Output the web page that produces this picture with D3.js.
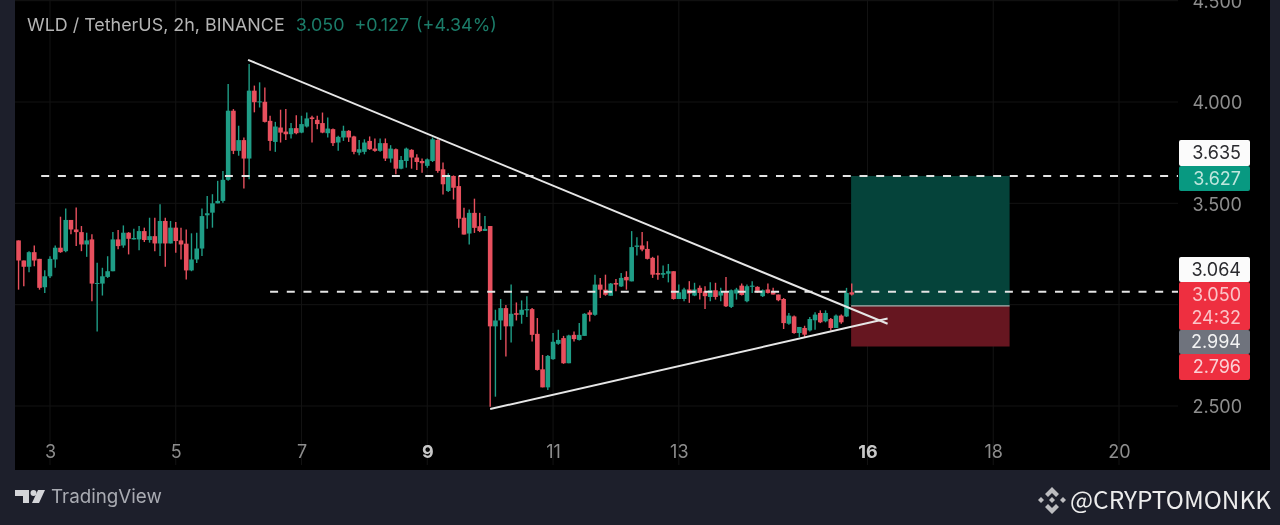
<!DOCTYPE html>
<html><head><meta charset="utf-8">
<script src="https://cdn.jsdelivr.net/npm/d3@7"></script>
<style>html,body{margin:0;padding:0;background:#1d1f2b;overflow:hidden}svg{display:block;filter:blur(0.35px)}text{font-family:Inter,"Noto Sans",sans-serif}</style>
</head><body><div id="chart"></div>
<script>
const startDay = 2.5, barsPerDay = 12;
const opens = [3.317,3.218,3.187,3.259,3.226,3.086,3.140,3.223,3.281,3.264,3.418,3.371,3.358,3.297,3.322,3.104,3.104,3.137,3.165,3.322,3.292,3.355,3.322,3.322,3.363,3.319,3.338,3.302,3.413,3.302,3.380,3.317,3.301,3.169,3.223,3.277,3.441,3.454,3.500,3.512,3.616,3.957,3.759,3.812,3.721,4.056,
3.998,4.001,3.907,3.803,3.874,3.854,3.841,3.871,3.849,3.879,3.924,3.912,3.896,3.846,3.866,3.800,3.825,3.858,3.830,3.750,3.754,3.808,3.770,3.759,3.797,3.721,3.767,3.671,3.709,3.764,3.726,3.709,3.685,3.709,3.813,3.668,3.561,3.635,3.585,3.429,3.351,3.453,3.387,3.364,
3.388,2.893,2.922,2.983,2.893,2.958,2.950,2.972,2.978,2.856,2.681,2.592,2.731,2.807,2.835,2.711,2.851,2.826,2.846,2.962,2.950,3.099,3.074,3.044,3.107,3.090,3.137,3.115,3.285,3.292,3.275,3.231,3.156,3.148,3.153,3.165,
3.028,3.028,3.075,3.045,3.083,3.066,3.038,3.071,3.045,3.066,2.989,3.055,3.094,3.017,3.088,3.088,3.042,3.075,3.066,3.050,3.028,2.906,2.942,2.860,2.885,2.873,2.923,2.959,2.918,2.929,2.885,2.946,2.942,3.061];
const highs = [3.317,3.218,3.264,3.292,3.226,3.170,3.239,3.292,3.434,3.474,3.418,3.479,3.388,3.355,3.347,3.207,3.182,3.239,3.358,3.368,3.391,3.358,3.375,3.388,3.380,3.429,3.429,3.495,3.429,3.413,3.408,3.380,3.371,3.352,3.355,3.474,3.536,3.545,3.611,3.660,4.089,3.965,3.883,3.825,4.188,4.081,
4.097,4.072,3.932,3.902,3.962,3.965,3.896,3.935,3.932,3.948,3.932,3.932,3.948,3.924,3.869,3.833,3.883,3.861,3.833,3.813,3.816,3.830,3.820,3.820,3.820,3.787,3.770,3.734,3.775,3.767,3.742,3.721,3.721,3.825,3.816,3.701,3.648,3.638,3.635,3.478,3.470,3.523,3.453,3.437,
3.388,2.975,3.028,2.998,3.099,3.011,3.021,3.041,2.983,2.934,2.752,2.752,2.860,2.876,2.846,2.851,2.868,2.909,2.958,2.972,3.148,3.132,3.148,3.107,3.127,3.156,3.165,3.363,3.333,3.358,3.313,3.236,3.242,3.193,3.201,3.165,
3.099,3.083,3.116,3.108,3.094,3.091,3.111,3.108,3.083,3.137,3.075,3.083,3.104,3.099,3.116,3.091,3.075,3.104,3.083,3.050,3.033,2.959,2.946,2.890,2.896,2.939,2.962,2.972,2.972,2.934,2.951,2.951,3.083,3.104];
const lows = [3.074,3.091,3.160,3.190,3.074,3.058,3.132,3.182,3.256,3.259,3.347,3.289,3.264,3.236,3.017,2.868,3.045,3.132,3.165,3.273,3.281,3.248,3.322,3.269,3.309,3.306,3.264,3.240,3.187,3.302,3.256,3.223,3.124,3.165,3.206,3.240,3.375,3.380,3.500,3.503,3.611,3.743,3.735,3.573,3.619,3.949,
3.973,3.899,3.759,3.754,3.800,3.813,3.820,3.841,3.846,3.874,3.800,3.866,3.846,3.825,3.783,3.759,3.808,3.803,3.742,3.737,3.742,3.764,3.754,3.754,3.709,3.701,3.643,3.668,3.676,3.671,3.665,3.651,3.676,3.704,3.651,3.544,3.556,3.519,3.379,3.346,3.297,3.354,3.358,3.364,
2.496,2.546,2.826,2.744,2.813,2.922,2.906,2.939,2.818,2.675,2.592,2.579,2.728,2.802,2.708,2.711,2.818,2.823,2.846,2.917,2.945,3.033,3.044,3.044,3.066,3.087,3.074,3.115,3.242,3.264,3.223,3.132,3.123,3.132,3.110,3.025,
3.028,3.017,3.009,3.042,3.025,2.979,3.017,3.025,3.017,2.989,2.984,3.025,3.045,3.012,3.058,3.058,3.038,3.055,3.050,3.017,2.880,2.901,2.857,2.840,2.840,2.868,2.876,2.909,2.913,2.873,2.885,2.906,2.939,3.045];
const closes = [3.218,3.187,3.259,3.218,3.083,3.140,3.226,3.281,3.259,3.418,3.371,3.358,3.297,3.317,3.104,3.107,3.140,3.165,3.322,3.289,3.355,3.325,3.329,3.363,3.319,3.338,3.302,3.413,3.302,3.380,3.314,3.297,3.169,3.223,3.277,3.437,3.451,3.500,3.512,3.616,3.957,3.759,3.812,3.721,4.056,3.999,
4.003,3.902,3.808,3.879,3.849,3.841,3.871,3.846,3.891,3.919,3.916,3.891,3.849,3.869,3.797,3.828,3.858,3.825,3.754,3.767,3.800,3.767,3.759,3.797,3.721,3.770,3.671,3.714,3.770,3.726,3.704,3.698,3.717,3.816,3.660,3.594,3.638,3.577,3.424,3.346,3.453,3.379,3.363,3.374,
2.893,2.922,2.983,2.893,2.955,2.950,2.975,2.978,2.851,2.678,2.592,2.747,2.817,2.826,2.711,2.848,2.830,2.851,2.955,2.950,3.099,3.074,3.049,3.104,3.099,3.132,3.120,3.284,3.292,3.272,3.226,3.148,3.148,3.156,3.165,3.028,
3.061,3.075,3.055,3.075,3.058,3.042,3.071,3.038,3.066,2.992,3.071,3.075,3.048,3.091,3.094,3.061,3.071,3.058,3.050,3.022,2.909,2.946,2.860,2.890,2.852,2.929,2.951,2.913,2.959,2.885,2.946,2.913,3.058,3.050];

const dayTicks = [3,5,7,9,11,13,16,18,20];
const boldDays = [9,16];
const priceTicks = [2.5,3.0,3.5,4.0,4.5];
const priceLabels = [2.5,3.5,4.0,4.5];
const trendDays = [6.15,16.32,10.0,16.32];
const trendPrices = [4.208,2.906,2.485,2.932];
const levelPrices = [3.635,3.064];
const levelStartDays = [2.86,6.5];
const levelEndDay = 20.0;
const target = 3.635, entry = 2.994, stop = 2.796;
const posStartDay = 15.74, posEndDay = 18.26;
const axisBadges = [
 {t:["3.635"],fill:"#fbfbfb",c:"#2a2a2e",h:26},
 {t:["3.627"],fill:"#089981",c:"#bfe6dd",h:25},
 {gap:66},
 {t:["3.064"],fill:"#fbfbfb",c:"#2a2a2e",h:25},
 {t:["3.050","24:32"],fill:"#ee2f40",c:"#fbc4c8",h:48},
 {t:["2.994"],fill:"#6f737d",c:"#f2f2f2",h:24},
 {t:["2.796"],fill:"#ee2f40",c:"#fbd0d4",h:26}
];

const W=1280,H=525, panelL=15, panelR=1270, panelB=470;
const x = d3.scaleLinear().domain([3,20]).range([50,1119]);
const y = d3.scaleLinear().domain([2.5,4.0]).range([406,102]);
const svg = d3.select("#chart").append("svg").attr("width",W).attr("height",H);
svg.append("rect").attr("width",W).attr("height",H).attr("fill","#1d1f2b");
svg.append("rect").attr("x",panelL).attr("width",panelR-panelL).attr("height",panelB).attr("fill","#000");

const grid = svg.append("g").attr("stroke","#131313").attr("stroke-width",1);
grid.selectAll(".v").data(dayTicks).join("line").attr("x1",d=>x(d)).attr("x2",d=>x(d)).attr("y1",0).attr("y2",panelB-5);
grid.selectAll(".h").data(priceTicks).join("line").attr("x1",panelL).attr("x2",1178).attr("y1",d=>y(d)).attr("y2",d=>y(d));

const yAxis = d3.axisRight(y).tickValues(priceLabels).tickFormat(d3.format(".3f")).tickSize(0).tickPadding(0);
const ya = svg.append("g").attr("transform","translate(1192.5,1)").call(yAxis);
ya.select(".domain").remove();
ya.selectAll("text").attr("fill","#8d8d8d").style("font-size","18px");

const xAxis = d3.axisBottom(x).tickValues(dayTicks).tickFormat(d3.format("d")).tickSize(0).tickPadding(0);
const xa = svg.append("g").attr("transform","translate(0,445)").call(xAxis);
xa.select(".domain").remove();
xa.selectAll("text").attr("fill",d=>boldDays.includes(d)?"#c8c8c8":"#8d8d8d").style("font-weight",d=>boldDays.includes(d)?"700":"400").style("font-size","18px");

// position tool
const pos = svg.append("g");
pos.append("rect").attr("x",x(posStartDay)).attr("width",x(posEndDay)-x(posStartDay)).attr("y",y(target)).attr("height",y(entry)-y(target)).attr("fill","#05433a");
pos.append("rect").attr("x",x(posStartDay)).attr("width",x(posEndDay)-x(posStartDay)).attr("y",y(entry)).attr("height",y(stop)-y(entry)+0.5).attr("fill","#661620");
pos.append("line").attr("x1",x(posStartDay)).attr("x2",x(posEndDay)).attr("y1",y(entry)).attr("y2",y(entry)).attr("stroke","#a9b4b2").attr("stroke-width",1.2);

// candles
const UP="#1f9d86", DOWN="#e8505e";
const idx = d3.range(opens.length);
const cx = i=>x(startDay+i/barsPerDay);
const col = i=>closes[i]>=opens[i]?UP:DOWN;
const cg = svg.append("g");
cg.selectAll("line").data(idx).join("line").attr("x1",cx).attr("x2",cx).attr("y1",i=>y(highs[i])).attr("y2",i=>y(lows[i])).attr("stroke",col).attr("stroke-width",1.4);
cg.selectAll("rect").data(idx).join("rect").attr("x",i=>cx(i)-2.3).attr("width",4.6)
  .attr("y",i=>y(Math.max(opens[i],closes[i]))).attr("height",i=>Math.max(1,Math.abs(y(opens[i])-y(closes[i])))).attr("fill",col);

// dashed levels
levelPrices.forEach((p,i)=>{
 svg.append("line").attr("x1",x(levelStartDays[i])).attr("x2",x(levelEndDay)+59).attr("y1",y(p)).attr("y2",y(p))
  .attr("stroke","#e4e4e4").attr("stroke-width",2).attr("stroke-dasharray","8 8.7");
});
// trend lines
[0,2].forEach(k=>{
 svg.append("line").attr("x1",x(trendDays[k])).attr("x2",x(trendDays[k+1])).attr("y1",y(trendPrices[k])).attr("y2",y(trendPrices[k+1]))
  .attr("stroke","#e6e6e6").attr("stroke-width",2);
});

// price badges
let by=140;
axisBadges.forEach(b=>{
 if(b.gap){by+=b.gap;return;}
 svg.append("rect").attr("x",1179).attr("y",by).attr("width",71).attr("height",b.h).attr("rx",2).attr("fill",b.fill);
 b.t.forEach((s,j)=>{
  svg.append("text").attr("x",1241).attr("y",by+(b.t.length>1?(j===0?13:36):b.h/2)).attr("dy","0.36em").attr("text-anchor","end").attr("fill",b.c).style("font-size","18px").text(s);
 });
 by+=b.h;
});

// header
const head = svg.append("text").attr("x",27).attr("y",31).style("font-size","17.9px");
head.append("tspan").attr("fill","#b4b4b4").text("WLD / TetherUS, 2h, BINANCE");
head.append("tspan").attr("fill","#1b7c69").attr("dx",11).text("3.050");
head.append("tspan").attr("fill","#1b7c69").attr("dx",10).text("+0.127");
head.append("tspan").attr("fill","#1b7c69").attr("dx",7).text("(+4.34%)");

// footer
const logo = svg.append("g").attr("fill","#d4d5d9");
logo.append("path").attr("d","M15 490h14v13h-6v-7h-8z");
logo.append("circle").attr("cx",33.5).attr("cy",493).attr("r",3);
logo.append("path").attr("d","M38 490h7l-6 13h-7z");
svg.append("text").attr("x",51).attr("y",503).attr("fill","#a9abb2").style("font-size","18.8px").text("TradingView");
const bn = svg.append("g").attr("fill","#bdbdc0");
bn.append("path").attr("d","M1052 487l7 7-3 3-4-4-4 4-3-3z");
bn.append("path").attr("d","M1052 514l7-7-3-3-4 4-4-4-3 3z");
bn.append("path").attr("d","M1041 497l3 3-3 3-3-3z");
bn.append("path").attr("d","M1063 497l3 3-3 3-3-3z");
bn.append("path").attr("d","M1052 497l3 3-3 3-3-3z");
svg.append("text").attr("x",1070).attr("y",509).attr("fill","#ececec").style("font-family",'"Noto Sans CJK SC","Noto Sans",sans-serif').style("font-size","24.4px").text("@CRYPTOMONKK");
</script></body></html>
